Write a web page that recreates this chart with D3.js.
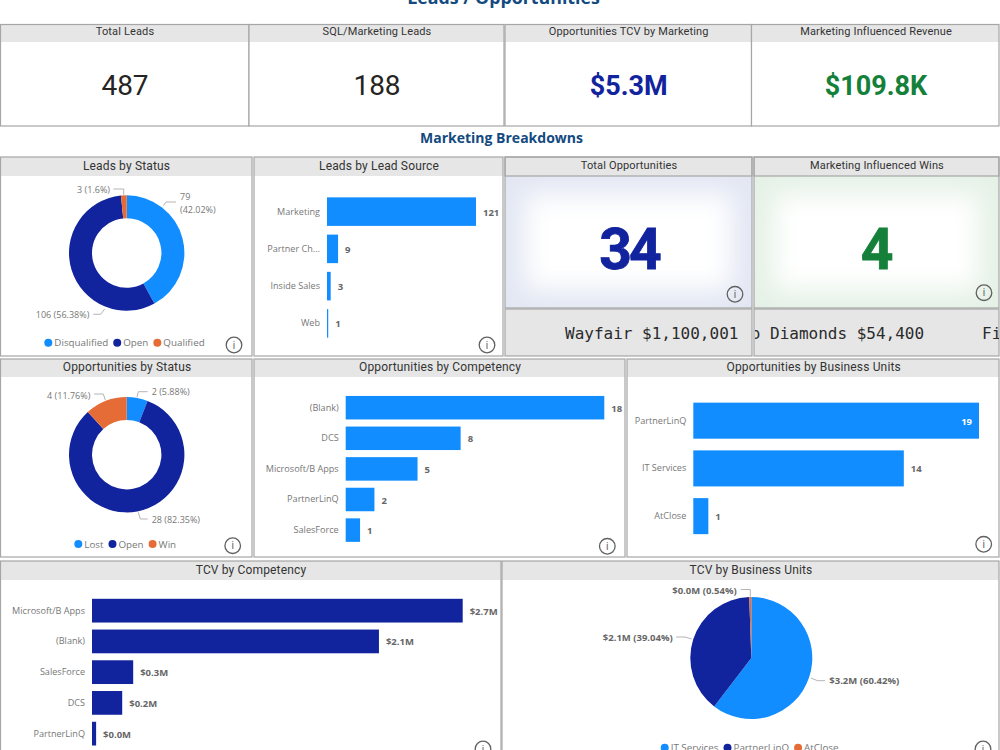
<!DOCTYPE html>
<html>
<head>
<meta charset="utf-8">
<script src="https://cdnjs.cloudflare.com/ajax/libs/d3/7.8.5/d3.min.js"></script>
<style>
html,body{margin:0;padding:0;background:#fff;overflow:hidden}
svg{display:block}
text{font-family:"Open Sans",sans-serif}
.din{font-family:Roboto,sans-serif}
</style>
</head>
<body>
<svg id="c" width="1000" height="750"></svg>
<script>
// ---------- data ----------
const kpiTitles = ["Total Leads","SQL/Marketing Leads","Opportunities TCV by Marketing","Marketing Influenced Revenue"];
const kpiValues = ["487","188","$5.3M","$109.8K"];

const leadStatusCats = ["Disqualified","Open","Qualified"];
const leadStatusVals = [79,106,3];
const leadStatusLabels = ["79","(42.02%)","3 (1.6%)","106 (56.38%)"];

const leadSourceCats = ["Marketing","Partner Ch...","Inside Sales","Web"];
const leadSourceVals = [121,9,3,1];

const totalOpportunities = "34";
const influencedWins = "4";
const tickerLeft = "Wayfair $1,100,001";
const tickerRight = ["o","Diamonds $54,400","Fi"];

const oppStatusCats = ["Lost","Open","Win"];
const oppStatusVals = [2,28,4];
const oppStatusLabels = ["2 (5.88%)","28 (82.35%)","4 (11.76%)"];

const oppCompCats = ["(Blank)","DCS","Microsoft/B Apps","PartnerLinQ","SalesForce"];
const oppCompVals = [18,8,5,2,1];

const oppBuCats = ["PartnerLinQ","IT Services","AtClose"];
const oppBuVals = [19,14,1];

const tcvCompCats = ["Microsoft/B Apps","(Blank)","SalesForce","DCS","PartnerLinQ"];
const tcvCompVals = [2.70,2.09,0.30,0.22,0.03];

const tcvBuCats = ["IT Services","PartnerLinQ","AtClose"];
const tcvBuPct = [60.42,39.04,0.54];
const tcvBuMoney = ["$3.2M","$2.1M","$0.0M"];

// ---------- style ----------
const BLUE="#118DFF", NAVY="#12239E", ORANGE="#E66C37", GREEN="#15803A";
const TITLE="#333", LABEL="#777", VALUE="#666", LEAD="#b5b5b5", HEAD="#E6E6E6", EDGE="#A6A6A6";

const svg = d3.select("#c");
const defs = svg.append("defs");
defs.append("filter").attr("id","soft").attr("x","-30%").attr("y","-30%").attr("width","160%").attr("height","160%")
  .append("feGaussianBlur").attr("stdDeviation",13);
let clipN = 0;
function clipRect(x,y,w,h){
  const id="clip"+(++clipN);
  defs.append("clipPath").attr("id",id).append("rect").attr("x",x).attr("y",y).attr("width",w).attr("height",h);
  return "url(#"+id+")";
}

function panel(x0,x1,y0,y1,headBottom,title,titleX,titleY,titleSize){
  svg.append("rect").attr("x",x0).attr("y",y0).attr("width",x1-x0).attr("height",y1-y0).attr("fill","#fff");
  svg.append("rect").attr("x",x0).attr("y",y0).attr("width",x1-x0).attr("height",headBottom-y0).attr("fill",HEAD);
  svg.append("rect").attr("x",x0).attr("y",y0).attr("width",x1-x0).attr("height",y1-y0)
    .attr("fill","none").attr("stroke",EDGE).attr("stroke-width",1.2);
  svg.append("text").attr("class","din").attr("x",titleX).attr("y",titleY).attr("text-anchor","middle")
    .attr("dominant-baseline","central").attr("font-size",titleSize).attr("letter-spacing",0.15)
    .attr("fill",TITLE).text(title);
}

function info(cx,cy){
  const g=svg.append("g").attr("transform",`translate(${cx},${cy})`);
  g.append("circle").attr("r",7.8).attr("fill","none").attr("stroke","#606060").attr("stroke-width",1.3);
  g.append("text").attr("class","din").attr("text-anchor","middle").attr("dominant-baseline","central")
    .attr("font-size",10).attr("fill","#606060").text("i");
}

function hbars(cats,vals,cfg){
  const x=d3.scaleLinear().domain([0,cfg.max]).range([cfg.x0,cfg.x1]);
  const y=d3.scaleBand().domain(cats).range([cfg.y0,cfg.y1]).paddingInner(cfg.pad).paddingOuter(cfg.pad/2);
  const g=svg.append("g");
  const ax=g.append("g").attr("transform",`translate(${cfg.x0},0)`)
    .call(d3.axisLeft(y).tickSize(0).tickPadding(7));
  ax.select(".domain").remove();
  ax.selectAll("text").attr("font-size",9.1).attr("fill",LABEL).attr("font-family",'"Open Sans",sans-serif');
  const rows=cats.map((c,i)=>({c,v:vals[i]}));
  g.selectAll("rect").data(rows).join("rect")
    .attr("x",cfg.x0).attr("y",d=>y(d.c)).attr("height",y.bandwidth())
    .attr("width",d=>x(d.v)-cfg.x0).attr("fill",cfg.color);
  g.selectAll("text.v").data(rows).join("text").attr("class","v")
    .attr("y",d=>y(d.c)+y.bandwidth()/2+0.5).attr("dominant-baseline","central")
    .attr("font-size",9.5).attr("font-weight",700)
    .attr("x",d=>cfg.inside&&d.v===cfg.max?x(d.v)-7:x(d.v)+7)
    .attr("text-anchor",d=>cfg.inside&&d.v===cfg.max?"end":"start")
    .attr("fill",d=>cfg.inside&&d.v===cfg.max?"#fff":VALUE)
    .text(d=>cfg.fmt?cfg.fmt(d.v):d.v);
}

function pie(vals,cx,cy,R,r){
  const arcs=d3.pie().sort(null)(vals);
  const arc=d3.arc().innerRadius(r).outerRadius(R);
  svg.append("g").attr("transform",`translate(${cx},${cy})`)
    .selectAll("path").data(arcs).join("path")
    .attr("d",arc).attr("fill",(d,i)=>[BLUE,NAVY,ORANGE][i]);
}

function leader(points,label){
  svg.append("path").attr("d",d3.line()(points)).attr("fill","none").attr("stroke",LEAD).attr("stroke-width",1);
  (label.lines).forEach((t,i)=>{
    svg.append("text").attr("x",label.x).attr("y",label.y+i*label.dy).attr("text-anchor",label.anchor)
      .attr("dominant-baseline","central").attr("font-size",label.bold?9.5:9).attr("font-weight",label.bold?700:400)
      .attr("fill",label.bold?VALUE:LABEL).text(t);
  });
}

function legend(cats,startX,y,size){
  let cx=startX;
  cats.forEach((c,i)=>{
    svg.append("circle").attr("cx",cx).attr("cy",y).attr("r",4).attr("fill",[BLUE,NAVY,ORANGE][i]);
    const t=svg.append("text").attr("x",cx+6).attr("y",y).attr("dominant-baseline","central")
      .attr("font-size",size).attr("fill",LABEL).text(c);
    cx+=6+t.node().getComputedTextLength()+9;
  });
}

function glowPanel(x0,x1,y0,y1,tint){
  const g=svg.append("g").attr("clip-path",clipRect(x0,y0,x1-x0,y1-y0));
  g.append("rect").attr("x",x0).attr("y",y0).attr("width",x1-x0).attr("height",y1-y0).attr("fill",tint);
  g.append("rect").attr("x",x0+20).attr("y",y0+18).attr("width",x1-x0-40).attr("height",y1-y0-36)
    .attr("fill","#fff").attr("filter","url(#soft)");
}

// ---------- headings ----------
svg.append("text").attr("x",503.5).attr("y",3.5).attr("text-anchor","middle").attr("font-size",17.8)
  .attr("font-weight",700).attr("fill","#134A80").text("Leads / Opportunities");
svg.append("text").attr("x",501.5).attr("y",137.5).attr("text-anchor","middle").attr("dominant-baseline","central")
  .attr("font-size",14).attr("font-weight",700).attr("fill","#134A80").text("Marketing Breakdowns");

// ---------- KPI row ----------
const kpiX=[[0.5,249],[249,504],[505,751.5],[751.5,999]];
const kpiTitleX=[125,377,628.7,876];
const kpiColors=["#252423","#252423",NAVY,GREEN];
kpiTitles.forEach((t,i)=>{
  panel(kpiX[i][0],kpiX[i][1],24.5,126,42,t,kpiTitleX[i],31.5,11);
  svg.append("text").attr("class","din").attr("x",kpiTitleX[i]).attr("y",85.5).attr("text-anchor","middle")
    .attr("dominant-baseline","central").attr("font-size",i>1?27:28).attr("font-weight",i>1?700:400)
    .attr("fill",kpiColors[i]).text(kpiValues[i]);
});

// ---------- row 2 ----------
panel(0.5,252,157,356,176,"Leads by Status",126.5,166,12);
pie(leadStatusVals,126.7,253,57.7,34.7);
leader([[163.5,205.7],[166,202],[176,202]],{lines:[leadStatusLabels[0],leadStatusLabels[1]],x:180,y:196,dy:13,anchor:"start"});
leader([[113.3,189],[123.7,189],[123.7,195.7]],{lines:[leadStatusLabels[2]],x:110,y:189,dy:0,anchor:"end"});
leader([[93.3,314.3],[100.7,314.3],[104.7,309]],{lines:[leadStatusLabels[3]],x:89.3,y:314.3,dy:0,anchor:"end"});
legend(leadStatusCats,48.3,342.7,9.8);
info(234,345);

panel(254,503,157,356,176,"Leads by Lead Source",379,166,12);
hbars(leadSourceCats,leadSourceVals,{max:121,x0:327,x1:476,y0:193,y1:342,pad:0.234,color:BLUE});
info(487,345);

glowPanel(505,752,176,308,"#E2E7F3");
panel(505,752,157,176,176,"Total Opportunities",629,165,11);
svg.append("rect").attr("x",505).attr("y",157).attr("width",247).attr("height",151).attr("fill","none").attr("stroke",EDGE).attr("stroke-width",1.2);
svg.append("text").attr("class","din").attr("x",629).attr("y",249).attr("text-anchor","middle")
  .attr("dominant-baseline","central").attr("font-size",57).attr("font-weight",700).attr("letter-spacing",-3)
  .attr("stroke",NAVY).attr("stroke-width",0.8).attr("fill",NAVY).text(totalOpportunities);
info(735,294.3);

glowPanel(754,999,176,308,"#E5F1E6");
panel(754,999,157,176,176,"Marketing Influenced Wins",877,165,11);
svg.append("rect").attr("x",754).attr("y",157).attr("width",245).attr("height",151).attr("fill","none").attr("stroke",EDGE).attr("stroke-width",1.2);
svg.append("text").attr("class","din").attr("x",877).attr("y",249).attr("text-anchor","middle")
  .attr("dominant-baseline","central").attr("font-size",57).attr("font-weight",700)
  .attr("stroke",GREEN).attr("stroke-width",0.8).attr("fill",GREEN).text(influencedWins);
info(984,292.7);

// tickers
[[505,752],[754,999]].forEach(([a,b])=>{
  svg.append("rect").attr("x",a).attr("y",309).attr("width",b-a).attr("height",47).attr("fill",HEAD)
    .attr("stroke",EDGE).attr("stroke-width",1.2);
});
const mono=(x,t,clip)=>svg.append("text").attr("x",x).attr("y",339).attr("font-size",16)
  .style("font-family",'"DejaVu Sans Mono",monospace').attr("fill","#2b2b2b").attr("clip-path",clip).text(t);
mono(565,tickerLeft,null);
const tickClip=clipRect(755,309,244,47);
mono(750.8,tickerRight[0],tickClip);
mono(770,tickerRight[1],tickClip);
mono(982,tickerRight[2],tickClip);

// ---------- row 3 ----------
panel(0.5,252,359,557,377,"Opportunities by Status",127,367,12);
pie(oppStatusVals,126.7,454.7,57.7,34.7);
leader([[147.7,391.7],[138.3,391.7],[137,397.3]],{lines:[oppStatusLabels[0]],x:151.7,y:391.7,dy:0,anchor:"start"});
leader([[94,394],[103.3,394],[105.3,400]],{lines:[oppStatusLabels[2]],x:90.3,y:395,dy:0,anchor:"end"});
leader([[147.7,519],[140.3,519],[138.3,512.3]],{lines:[oppStatusLabels[1]],x:151.7,y:519,dy:0,anchor:"start"});
legend(oppStatusCats,78.3,544,9.8);
info(232.7,545.7);

panel(254,625,359,557,377,"Opportunities by Competency",440,367,12);
hbars(oppCompCats,oppCompVals,{max:18,x0:345.7,x1:604.3,y0:392.4,y1:545.4,pad:0.232,color:BLUE});
info(607.3,546.3);

panel(627,999,359,557,377,"Opportunities by Business Units",813.7,367,12);
hbars(oppBuCats,oppBuVals,{max:19,x0:693.3,x1:979,y0:396.8,y1:540,pad:0.245,color:BLUE,inside:true});
info(983.7,544.3);

// ---------- row 4 ----------
panel(0.5,501,561,760,580,"TCV by Competency",251,570,12);
hbars(tcvCompCats,tcvCompVals,{max:2.7,x0:92,x1:462.7,y0:595.3,y1:749,pad:0.228,color:NAVY,fmt:v=>"$"+v.toFixed(1)+"M"});
info(483,749);

panel(502,999,561,760,580,"TCV by Business Units",751,570,12);
pie(tcvBuPct,751.3,658,61,0);
leader([[740.7,589.5],[750.3,589.5],[750.3,596.7]],{lines:[tcvBuMoney[2]+" ("+tcvBuPct[2]+"%)"],x:736.7,y:590,dy:0,anchor:"end",bold:true});
leader([[676,637],[685,637],[691.7,639]],{lines:[tcvBuMoney[1]+" ("+tcvBuPct[1]+"%)"],x:672.7,y:637.7,dy:0,anchor:"end",bold:true});
leader([[825,680.7],[817.3,680.7],[811,678]],{lines:[tcvBuMoney[0]+" ("+tcvBuPct[0]+"%)"],x:829.3,y:680.7,dy:0,anchor:"start",bold:true});
legend(tcvBuCats,664.7,747.7,9.8);
info(983,749);
</script>
</body>
</html>
